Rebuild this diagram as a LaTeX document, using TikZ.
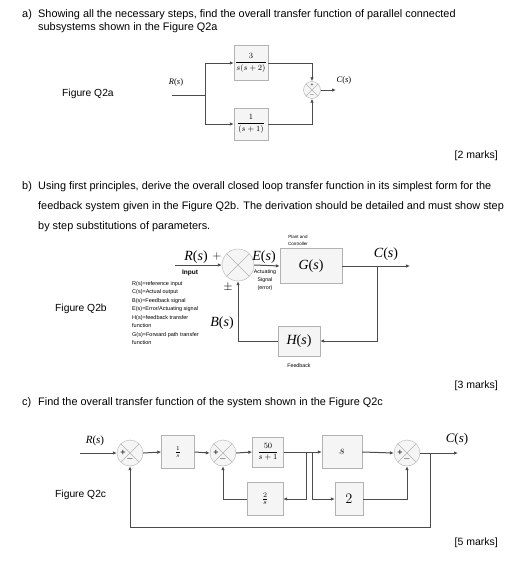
\documentclass[tikz,border=0pt]{standalone}
\usepackage{amsmath}
\usepackage{fontspec}
\setmainfont{Liberation Sans}
\newfontfamily\serifit{Liberation Serif}
\newcommand\tfun[1]{{\serifit\itshape #1\upshape(\itshape s\upshape)}}
\usetikzlibrary{positioning}
\usetikzlibrary{arrows.meta}

\begin{document}
\begin{tikzpicture}[x=1pt,y=-1pt,
  block/.style={draw=gray!60,fill=gray!8,minimum width=33pt,minimum height=33pt,inner sep=1pt},
  sum/.style={circle,draw=gray!60,fill=gray!8,minimum size=26pt,inner sep=0pt,
    path picture={\draw[gray!60] (path picture bounding box.north west) -- (path picture bounding box.south east)
      (path picture bounding box.north east) -- (path picture bounding box.south west);}},
  line/.style={draw=black!70,line width=1pt},
  arr/.style={line,-{Latex[length=4pt,width=3.5pt]}},
  qtext/.style={anchor=base west,inner sep=0pt,font=\fontsize{10.9}{12}\selectfont},
  marks/.style={anchor=base east,inner sep=0pt,font=\fontsize{10.5}{12}\selectfont},
  small/.style={inner sep=0pt,font=\fontsize{5}{6}\selectfont}]

  \useasboundingbox (0,0) rectangle (519,579);

  % Question a
  \node[qtext] (qa) at (22,17) {a)};
  \node[qtext] (qa1) at (38,17) {Showing all the necessary steps, find the overall transfer function of parallel connected};
  \node[qtext] (qa2) at (38,30) {subsystems shown in the Figure Q2a};
  \node[qtext,font=\fontsize{10.3}{12}\selectfont] (figa) at (62,96) {Figure Q2a};

  % Parallel blocks
  \node[block,minimum width=34pt,minimum height=35pt,font=\footnotesize] (topa) at (251,63) {$\dfrac{3}{s(s+2)}$};
  \node[block,minimum width=34pt,minimum height=32pt,font=\footnotesize] (bota) at (251,124) {$\dfrac{1}{(s+1)}$};
  \node[sum,minimum size=17pt] (suma) at (312,90) {};
  \node[small] (pa) at (312,85) {+};
  \node[small] (ma) at (312,95) {$-$};
  \coordinate (ina) at (172,95);
  \coordinate (splita) at (205,95);
  \coordinate (outa) at (336,90);
  \node[font=\fontsize{8.5}{9}\selectfont] (ra) at (176,82) {\tfun{R}};
  \node[font=\fontsize{8.5}{9}\selectfont] (ca) at (344,80) {\tfun{C}};
  \draw[line] (ina) -- (splita);
  \draw[arr] (splita) |- (topa.west);
  \draw[arr] (splita) |- (bota.west);
  \draw[arr] (topa.east) -| (suma.north);
  \draw[arr] (bota.east) -| (suma.south);
  \draw[arr] (suma.east) -- (outa);
  \node[marks] (mka) at (498,158) {[2 marks]};

  % Question b
  \node[qtext] (qb) at (22,189) {b)};
  \node[qtext] (qb1) at (38,189) {Using first principles, derive the overall closed loop transfer function in its simplest form for the};
  \node[qtext] (qb2) at (38,209) {feedback system given in the Figure Q2b. The derivation should be detailed and must show step};
  \node[qtext] (qb3) at (38,229) {by step substitutions of parameters.};
  \node[qtext,font=\fontsize{10.3}{12}\selectfont] (figb) at (55,311) {Figure Q2b};

  % Feedback loop
  \node[sum,minimum size=32pt] (sumb) at (238,265) {};
  \node[block,minimum width=62pt,minimum height=35pt,font=\fontsize{14}{15}\selectfont] (gb) at (311,266) {\tfun{G}};
  \node[block,minimum width=42pt,minimum height=30pt,font=\fontsize{14}{15}\selectfont] (hb) at (299,341) {\tfun{H}};
  \coordinate (inb) at (175,265);
  \coordinate (tapb) at (377,266);
  \coordinate (outb) at (410,266);
  \draw[arr] (inb) -- (sumb.west);
  \draw[arr] (sumb.east) -- (gb.west);
  \draw[arr] (gb.east) -- (outb);
  \draw[arr] (tapb) |- (hb.east);
  \draw[arr] (hb.west) -| (sumb.south);
  \node[font=\fontsize{14}{15}\selectfont] (rb) at (196,257) {\tfun{R}};
  \node[font=\large] (plusb) at (217,256) {$+$};
  \node[font=\fontsize{14}{15}\selectfont] (eb) at (264,257) {\tfun{E}};
  \node[font=\fontsize{14}{15}\selectfont] (cb) at (386,254) {\tfun{C}};
  \node[font=\fontsize{14}{15}\selectfont] (bb) at (222,323) {\tfun{B}};
  \node[font=\large] (pmb) at (228,287) {$\pm$};
  \node[small,font=\bfseries\fontsize{6.5}{7}\selectfont] (inputb) at (190,273) {Input};
  \node[small,align=center,font=\fontsize{4.5}{7}\selectfont] (plant) at (298,240) {Plant and\\Controller};
  \node[small,align=center,font=\fontsize{5.3}{8}\selectfont] (act) at (265,280) {Actuating\\Signal\\(error)};
  \node[small,font=\fontsize{5.3}{6}\selectfont] (fbb) at (299,366) {Feedback};
  \node[small,anchor=north west,align=left,font=\fontsize{5.5}{8.5}\selectfont] (legend) at (132,281)
    {R(s)=reference input\\C(s)=Actual output\\B(s)=Feedback signal\\E(s)=Error/Actuating signal\\
     H(s)=feedback transfer\\function\\G(s)=Forward path transfer\\function};
  \node[marks] (mkb) at (498,388) {[3 marks]};

  % Question c
  \node[qtext] (qc) at (22,405) {c)};
  \node[qtext] (qc1) at (38,405) {Find the overall transfer function of the system shown in the Figure Q2c};
  \node[qtext,font=\fontsize{10.3}{12}\selectfont] (figc) at (55,497) {Figure Q2c};

  % Multi-loop system
  \node[sum] (sum1) at (130,453) {};
  \node[block,font=\footnotesize] (int) at (178,452) {$\frac{1}{s}$};
  \node[sum] (sum2) at (223,453) {};
  \node[block,minimum width=31pt,minimum height=30pt,font=\footnotesize] (plant) at (268,452) {$\dfrac{50}{s+1}$};
  \node[block,minimum width=40pt,font=\large] (diff) at (342,452) {$s$};
  \node[block,minimum width=36pt] (fbc) at (265,499) {$\frac{2}{s}$};
  \node[block,minimum width=28pt,font=\Large] (gain) at (349,499) {$2$};
  \node[sum] (sum3) at (407,453) {};
  \foreach \s in {sum1,sum2,sum3} {
    \node[small,font=\fontsize{9}{9}\selectfont] at ([xshift=-7pt]\s.center) {+};
    \node[small,font=\fontsize{9}{9}\selectfont] at ([yshift=-6pt]\s.center) {$-$};
  }
  \coordinate (inc) at (80,453);
  \coordinate (tap1) at (306,452);
  \coordinate (tap2) at (312,452);
  \coordinate (tap3) at (430,453);
  \coordinate (botc) at (430,527);
  \coordinate (outc) at (458,453);
  \node[font=\fontsize{11}{12}\selectfont] (rc) at (95,441) {\tfun{R}};
  \node[font=\fontsize{13}{14}\selectfont] (cc) at (457,439) {\tfun{C}};
  \draw[arr] (inc) -- (sum1.west);
  \draw[arr] (sum1.east) -- (int.west);
  \draw[arr] (int.east) -- (sum2.west);
  \draw[arr] (sum2.east) -- (plant.west);
  \draw[arr] (plant.east) -- (diff.west);
  \draw[arr] (tap1) |- (fbc.east);
  \draw[arr] (fbc.west) -| (sum2.south);
  \draw[arr] (tap2) |- (gain.west);
  \draw[arr] (diff.east) -- (sum3.west);
  \draw[arr] (gain.east) -| (sum3.south);
  \draw[arr] (sum3.east) -- (outc);
  \draw[arr] (tap3) -- (botc) -| (sum1.south);
  \node[marks] (mkc) at (498,545) {[5 marks]};

\end{tikzpicture}
\end{document}
